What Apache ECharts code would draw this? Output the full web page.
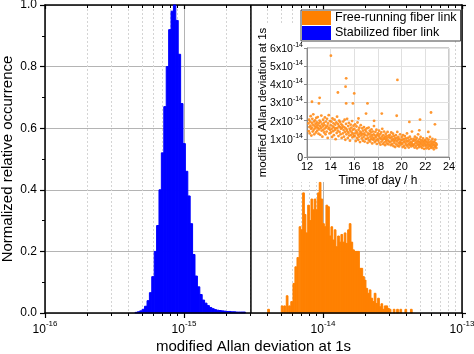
<!DOCTYPE html>
<html>
<head>
<meta charset="utf-8">
<script src="https://cdn.jsdelivr.net/npm/echarts@6/dist/echarts.min.js"></script>
<style>
html, body { margin: 0; padding: 0; background: #fff; }
#chart { width: 474px; height: 354px; }
</style>
</head>
<body>
<div id="chart"></div>
<script>
// stabilized link histogram: bin centres (modified Allan deviation at 1 s) and normalized occurrence
var stabCentres = [
  4.53e-16, 4.71e-16, 4.90e-16, 5.10e-16, 5.31e-16, 5.53e-16, 5.75e-16, 5.98e-16, 6.23e-16, 6.48e-16,
  6.74e-16, 7.01e-16, 7.30e-16, 7.60e-16, 7.91e-16, 8.23e-16, 8.56e-16, 8.91e-16, 9.27e-16, 9.64e-16,
  1.003e-15, 1.044e-15, 1.086e-15, 1.130e-15, 1.176e-15, 1.224e-15, 1.274e-15, 1.325e-15, 1.379e-15, 1.435e-15,
  1.493e-15, 1.554e-15, 1.617e-15, 1.682e-15, 1.751e-15, 1.821e-15, 1.895e-15, 1.972e-15, 2.052e-15, 2.135e-15,
  2.223e-15, 2.312e-15, 2.406e-15, 2.504e-15, 2.605e-15, 2.711e-15
];
var stabCounts = [
  0.002, 0.004, 0.007, 0.012, 0.022, 0.04, 0.066, 0.118, 0.20, 0.284,
  0.40, 0.52, 0.67, 0.80, 0.92, 0.98, 1.0, 0.95, 0.84, 0.68,
  0.55, 0.46, 0.38, 0.29, 0.19, 0.12, 0.085, 0.06, 0.042, 0.032,
  0.024, 0.018, 0.014, 0.011, 0.009, 0.008, 0.007, 0.006, 0.005, 0.005,
  0.004, 0.004, 0.003, 0.003, 0.003, 0.003
];

// free-running link histogram
var freeCentres = [
  4.06e-15, 5.08e-15, 5.29e-15, 5.52e-15, 5.74e-15, 5.95e-15, 6.17e-15, 6.37e-15, 6.59e-15, 6.83e-15,
  7.04e-15, 7.24e-15, 7.43e-15, 7.65e-15, 7.87e-15, 8.08e-15, 8.31e-15, 8.55e-15, 8.77e-15, 9.03e-15,
  9.28e-15, 9.53e-15, 9.80e-15, 1.008e-14, 1.035e-14, 1.065e-14, 1.095e-14, 1.125e-14, 1.157e-14, 1.190e-14,
  1.222e-14, 1.257e-14, 1.293e-14, 1.327e-14, 1.365e-14, 1.404e-14, 1.442e-14, 1.483e-14, 1.526e-14, 1.567e-14,
  1.612e-14, 1.657e-14, 1.702e-14, 1.751e-14, 1.801e-14, 1.849e-14, 1.902e-14, 1.956e-14, 2.009e-14, 2.066e-14,
  2.125e-14, 2.182e-14, 2.244e-14, 2.308e-14, 2.370e-14, 2.438e-14, 2.508e-14, 2.575e-14, 2.649e-14, 2.725e-14,
  2.798e-14, 2.877e-14, 2.959e-14, 3.039e-14, 3.247e-14, 3.436e-14, 3.628e-14, 3.942e-14, 4.318e-14
];
var freeCounts = [
  0.012, 0.023, 0.023, 0.056, 0.023, 0.037, 0.096, 0.15, 0.18, 0.28,
  0.27, 0.39, 0.32, 0.26, 0.35, 0.30, 0.37, 0.335, 0.37, 0.335,
  0.39, 0.424, 0.37, 0.29, 0.28, 0.35, 0.345, 0.25, 0.28, 0.237,
  0.27, 0.215, 0.25, 0.23, 0.255, 0.23, 0.26, 0.226, 0.27, 0.29,
  0.23, 0.205, 0.2, 0.2, 0.2, 0.145, 0.145, 0.118, 0.107, 0.08,
  0.064, 0.075, 0.048, 0.037, 0.064, 0.031, 0.048, 0.02, 0.03, 0.012,
  0.023, 0.023, 0.015, 0.012, 0.012, 0.012, 0.012, 0.012, 0.012
];

// boundary between the two histograms
var dividerAt = 3.03e-15;

// inset: time of day (h) vs modified Allan deviation at 1 s (units of 1e-14)
var insetPoints = [
  [12.12,1.85],[12.15,1.42],[12.18,2.05],[12.2,1.65],[12.23,1.3],[12.26,1.95],[12.29,1.72],[12.31,2.25],[12.34,1.55],[12.37,1.18],[12.4,1.88],[12.42,1.62],[12.45,2.1],[12.48,1.4],[12.5,1.78],[12.53,2.35],[12.56,1.5],[12.59,1.95],[12.61,1.25],[12.64,1.7],[12.67,2.02],[12.7,1.58],[12.72,1.82],[12.75,1.35],[12.78,2.15],[12.8,1.66],[12.83,1.9],[12.86,1.45],[12.89,1.75],[12.91,2.2],[12.94,1.6],[12.97,1.28],
  [13.0,1.85],[13.03,1.52],[13.06,2.0],[13.09,1.7],[13.12,1.22],[13.15,1.92],[13.18,1.6],[13.21,2.28],[13.24,1.45],[13.27,1.8],[13.3,1.12],[13.33,1.68],[13.36,2.05],[13.39,1.5],[13.42,1.88],[13.45,1.35],[13.48,1.75],[13.51,2.18],[13.54,1.58],[13.57,1.25],[13.6,1.95],[13.63,1.65],[13.66,1.4],[13.69,2.1],[13.72,1.72],[13.75,1.05],[13.78,1.85],[13.81,1.55],[13.84,2.3],[13.87,1.62],[13.9,1.3],[13.93,1.98],[13.96,1.48],
  [14.0,1.75],[14.03,1.35],[14.06,1.95],[14.09,1.55],[14.12,1.1],[14.15,2.12],[14.18,1.68],[14.21,1.42],[14.24,1.85],[14.27,1.2],[14.3,1.62],[14.33,2.05],[14.36,1.5],[14.39,1.78],[14.42,0.98],[14.45,1.58],[14.48,1.9],[14.51,1.32],[14.54,2.22],[14.57,1.6],[14.6,1.45],[14.63,1.82],[14.66,1.15],[14.69,1.7],[14.72,2.0],[14.75,1.38],[14.78,1.65],[14.81,1.92],[14.84,1.25],[14.87,1.55],[14.9,1.8],[14.93,1.05],[14.96,1.6],
  [15.0,1.72],[15.03,1.3],[15.06,1.95],[15.09,1.48],[15.12,1.12],[15.15,1.65],[15.18,2.05],[15.21,1.38],[15.24,0.95],[15.27,1.58],[15.3,1.82],[15.33,1.25],[15.36,1.5],[15.39,2.1],[15.42,1.4],[15.45,1.05],[15.48,1.7],[15.51,1.32],[15.54,1.88],[15.57,1.18],[15.6,1.55],[15.63,0.9],[15.66,1.45],[15.69,1.78],[15.72,1.2],[15.75,1.62],[15.78,1.35],[15.81,1.98],[15.84,1.08],[15.87,1.5],[15.9,1.28],[15.93,1.72],[15.96,1.15],
  [16.0,1.55],[16.03,1.15],[16.06,1.8],[16.09,1.3],[16.12,0.88],[16.15,1.45],[16.18,1.68],[16.21,1.05],[16.24,1.35],[16.27,1.9],[16.3,1.22],[16.33,0.95],[16.36,1.5],[16.39,1.12],[16.42,1.62],[16.45,1.28],[16.48,0.82],[16.51,1.4],[16.54,1.75],[16.57,1.18],[16.6,1.32],[16.63,1.02],[16.66,1.58],[16.69,1.25],[16.72,0.9],[16.75,1.45],[16.78,1.1],[16.81,1.65],[16.84,1.3],[16.87,0.85],[16.9,1.2],[16.93,1.5],[16.96,1.0],
  [17.0,1.4],[17.03,1.0],[17.06,1.58],[17.09,1.18],[17.12,0.78],[17.15,1.3],[17.18,1.05],[17.21,1.62],[17.24,0.92],[17.27,1.25],[17.3,1.45],[17.33,0.85],[17.36,1.12],[17.39,1.35],[17.42,0.98],[17.45,1.52],[17.48,1.2],[17.51,0.75],[17.54,1.08],[17.57,1.4],[17.6,0.95],[17.63,1.25],[17.66,1.7],[17.69,1.02],[17.72,0.82],[17.75,1.18],[17.78,1.38],[17.81,0.9],[17.84,1.1],[17.87,1.5],[17.9,0.72],[17.93,1.22],[17.96,0.98],
  [18.0,1.3],[18.03,0.9],[18.06,1.15],[18.09,1.45],[18.12,0.78],[18.15,1.05],[18.18,1.25],[18.21,0.68],[18.24,1.0],[18.27,1.35],[18.3,0.85],[18.33,1.12],[18.36,1.55],[18.39,0.95],[18.42,0.72],[18.45,1.2],[18.48,1.02],[18.51,1.4],[18.54,0.8],[18.57,1.1],[18.6,0.65],[18.63,0.98],[18.66,1.28],[18.69,0.88],[18.72,1.15],[18.75,0.75],[18.78,1.05],[18.81,1.38],[18.84,0.92],[18.87,0.7],[18.9,1.18],[18.93,0.85],[18.96,1.08],
  [19.0,1.22],[19.03,0.8],[19.06,1.05],[19.09,0.65],[19.12,1.35],[19.15,0.9],[19.18,1.12],[19.21,0.72],[19.24,0.98],[19.27,1.28],[19.3,0.6],[19.33,0.88],[19.36,1.15],[19.39,0.78],[19.42,1.02],[19.45,0.55],[19.48,0.92],[19.51,1.2],[19.54,0.7],[19.57,1.05],[19.6,0.85],[19.63,1.38],[19.66,0.62],[19.69,0.95],[19.72,1.1],[19.75,0.75],[19.78,0.58],[19.81,1.0],[19.84,0.82],[19.87,1.25],[19.9,0.68],[19.93,0.92],[19.96,0.78],
  [20.0,1.1],[20.03,0.72],[20.06,0.95],[20.09,0.55],[20.12,1.2],[20.15,0.8],[20.18,1.0],[20.21,0.62],[20.24,0.88],[20.27,1.15],[20.3,0.5],[20.33,0.78],[20.36,1.02],[20.39,0.68],[20.42,0.9],[20.45,1.3],[20.48,0.6],[20.51,0.85],[20.54,1.05],[20.57,0.7],[20.6,0.52],[20.63,0.92],[20.66,0.75],[20.69,1.12],[20.72,0.65],[20.75,0.82],[20.78,1.0],[20.81,0.58],[20.84,0.78],[20.87,1.4],[20.9,0.7],[20.93,0.88],[20.96,0.62],
  [21.0,1.0],[21.03,0.68],[21.06,0.9],[21.09,0.52],[21.12,1.12],[21.15,0.75],[21.18,0.95],[21.21,0.6],[21.24,0.82],[21.27,1.05],[21.3,0.48],[21.33,0.72],[21.36,0.88],[21.39,1.25],[21.42,0.65],[21.45,0.8],[21.48,0.55],[21.51,0.98],[21.54,0.7],[21.57,0.85],[21.6,1.1],[21.63,0.58],[21.66,0.76],[21.69,0.92],[21.72,0.5],[21.75,0.68],[21.78,0.85],[21.81,1.02],[21.84,0.62],[21.87,0.78],[21.9,0.45],[21.93,0.9],[21.96,0.7],
  [22.0,0.92],[22.03,0.6],[22.06,0.8],[22.09,0.48],[22.12,1.02],[22.15,0.68],[22.18,0.85],[22.21,0.55],[22.24,0.75],[22.27,0.95],[22.3,0.45],[22.33,0.65],[22.36,0.82],[22.39,1.1],[22.42,0.58],[22.45,0.72],[22.48,0.5],[22.51,0.88],[22.54,0.62],[22.57,0.78],[22.6,1.0],[22.63,0.52],[22.66,0.7],[22.69,0.85],[22.72,0.42],[22.75,0.65],[22.78,0.8],[22.81,0.55],[22.84,0.95],[22.87,0.6],[22.9,0.75],[22.93,0.5],[22.96,0.68],
  // outliers
  [14.02,5.58],[15.31,4.33],[15.26,3.87],[14.61,3.55],[15.99,3.5],[13.07,3.26],[12.42,3.04],[13.01,2.95],[17.11,2.95],[19.64,4.24],[15.31,2.95],[15.88,2.95],[16.35,2.12],[16.99,2.39],[18.32,2.39],[17.67,1.99],[19.58,2.27],[20.65,1.93],[21.55,2.06],[21.49,1.47],[22.48,2.45],[22.81,1.8],[22.25,1.38]
];

var decadeTicks = [1e-16, 1e-15, 1e-14, 1e-13];
var minorTicks = [];
decadeTicks.slice(0, 3).forEach(function (d) {
  for (var m = 2; m <= 9; m++) minorTicks.push(m * d);
});

var FONT = 'Liberation Sans, Arial, sans-serif';
var ORANGE = '#ff8000';
var BLUE = '#0000ff';
var stabHalfRatio = 1.0201;   // half bin width, log scale
var freeHalfRatio = 1.0142;

function histItem(ratio) {
  return function (params, api) {
    var v = api.value(0), h = api.value(1);
    var p0 = api.coord([v / ratio, h]);
    var p1 = api.coord([v * ratio, 0]);
    var st = api.style();
    st.stroke = st.fill;
    st.lineWidth = 1;
    return {
      type: 'rect',
      shape: { x: p0[0], y: p0[1], width: p1[0] - p0[0], height: p1[1] - p0[1] },
      style: st
    };
  };
}

function pairs(xs, ys) {
  return xs.map(function (x, i) { return [x, ys[i]]; });
}

var supRich = {
  b: { fontSize: 12, fontFamily: FONT, color: '#000', lineHeight: 16, verticalAlign: 'bottom' },
  s: { fontSize: 8, fontFamily: FONT, color: '#000', lineHeight: 16, verticalAlign: 'top' }
};
var insetRich = {
  b: { fontSize: 10.5, fontFamily: FONT, color: '#000', lineHeight: 13, verticalAlign: 'bottom' },
  s: { fontSize: 7, fontFamily: FONT, color: '#000', lineHeight: 13, verticalAlign: 'top' }
};

var chart = echarts.init(document.getElementById('chart'));

var mainX = { type: 'log', logBase: 10, min: 1e-16, max: 1e-13, gridIndex: 0 };

chart.setOption({
  animation: false,
  backgroundColor: '#fff',
  textStyle: { fontFamily: FONT },
  grid: [
    { left: 45, top: 5, right: 12, bottom: 41, outerBoundsMode: 'none', containLabel: false },
    { left: 307, top: 48, width: 142, height: 109, show: true, borderColor: '#999', borderWidth: 1, z: 3,
      outerBoundsMode: 'none', containLabel: false }
  ],
  legend: {
    data: ['Free-running fiber link', 'Stabilized fiber link'],
    orient: 'vertical', left: 301, top: 10,
    itemWidth: 29, itemHeight: 14, itemGap: 1,
    padding: [1, 4, 1, 1],
    borderColor: '#444', borderWidth: 1, backgroundColor: '#fff',
    icon: 'rect', selectedMode: false, z: 6,
    textStyle: { fontSize: 12.5, fontFamily: FONT, color: '#000', padding: [0, 0, 0, -1] }
  },
  graphic: [
    { type: 'rect', z: 1, silent: true, shape: { x: 253, y: 24, width: 197, height: 158 }, style: { fill: '#fff' } }
  ],
  xAxis: [
    Object.assign({}, mainX, {
      position: 'bottom', z: 5,
      name: 'modified Allan deviation at 1s', nameLocation: 'middle', nameGap: 26,
      nameMoveOverlap: false,
      nameTextStyle: { fontSize: 15, fontFamily: FONT, color: '#000' },
      axisLine: { lineStyle: { color: '#000', width: 1.5 } },
      axisTick: { length: 5, lineStyle: { color: '#000', width: 1.2 } },
      axisLabel: {
        margin: 7,
        formatter: function (v) { return '{b|10}{s|' + Math.round(Math.log10(v)) + '}'; },
        rich: supRich
      },
      splitLine: { show: false }
    }),
    Object.assign({}, mainX, {
      position: 'bottom', z: 0,
      axisLine: { show: false },
      axisTick: { length: 3, customValues: minorTicks, lineStyle: { color: '#000', width: 1 } },
      axisLabel: { show: false },
      splitLine: { show: true, lineStyle: { color: '#d4d4d4', width: 1, type: [2, 2] } }
    }),
    Object.assign({}, mainX, {
      position: 'top', z: 0,
      axisLine: { lineStyle: { color: '#000', width: 1.5 } },
      axisTick: { inside: true, length: 4, lineStyle: { color: '#000', width: 1.2 } },
      axisLabel: { show: false },
      splitLine: { show: true, lineStyle: { color: '#b4b4b4', width: 1 } }
    }),
    Object.assign({}, mainX, {
      position: 'top', z: 0,
      axisLine: { show: false },
      axisTick: { inside: true, length: 3, customValues: minorTicks, lineStyle: { color: '#000', width: 1 } },
      axisLabel: { show: false },
      splitLine: { show: false }
    }),
    {
      type: 'value', gridIndex: 1, min: 12, max: 24, interval: 2, z: 3,
      name: 'Time of day / h', nameLocation: 'middle', nameGap: 18,
      nameTextStyle: { fontSize: 12, fontFamily: FONT, color: '#000' },
      axisLine: { lineStyle: { color: '#888', width: 1 } },
      axisTick: { length: 3, lineStyle: { color: '#888' } },
      axisLabel: { fontSize: 11, fontFamily: FONT, color: '#000', margin: 4 },
      splitLine: { show: true, lineStyle: { color: '#e0e0e0', width: 1 } }
    }
  ],
  yAxis: [
    {
      type: 'value', gridIndex: 0, min: 0, max: 1, interval: 0.2, position: 'left', z: 0,
      name: 'Normalized relative occurrence', nameLocation: 'middle', nameGap: 30,
      nameMoveOverlap: false,
      nameTextStyle: { fontSize: 15, fontFamily: FONT, color: '#000' },
      axisLine: { show: true, lineStyle: { color: '#000', width: 1.5 } },
      axisTick: { show: true, length: 5, lineStyle: { color: '#000', width: 1.2 } },
      minorTick: { show: true, splitNumber: 2, length: 3, lineStyle: { color: '#000', width: 1 } },
      axisLabel: { fontSize: 12, fontFamily: FONT, color: '#000', margin: 8,
        formatter: function (v) { return v.toFixed(1); } },
      splitLine: { show: true, lineStyle: { color: '#b4b4b4', width: 1 } }
    },
    {
      type: 'value', gridIndex: 0, min: 0, max: 1, interval: 0.2, position: 'right', z: 0,
      axisLine: { show: true, lineStyle: { color: '#000', width: 1.5 } },
      axisTick: { show: true, length: 4, lineStyle: { color: '#000', width: 1.2 } },
      axisLabel: { show: false },
      splitLine: { show: false }
    },
    {
      type: 'value', gridIndex: 1, min: 0, max: 6, interval: 1, z: 3,
      name: 'modified Allan deviation at 1s', nameLocation: 'middle', nameGap: 38,
      nameMoveOverlap: false,
      nameTextStyle: { fontSize: 11.5, fontFamily: FONT, color: '#000' },
      axisLine: { show: true, lineStyle: { color: '#888', width: 1 } },
      axisTick: { show: true, length: 3, lineStyle: { color: '#888' } },
      axisLabel: {
        margin: 4,
        formatter: function (v) {
          var n = Math.round(v);
          return n === 0 ? '{b|0}' : '{b|' + n + 'x10}{s|-14}';
        },
        rich: insetRich
      },
      splitLine: { show: true, lineStyle: { color: '#e0e0e0', width: 1 } }
    }
  ],
  series: [
    {
      name: 'Free-running fiber link', type: 'custom', xAxisIndex: 0, yAxisIndex: 0, z: 2,
      itemStyle: { color: ORANGE },
      renderItem: histItem(freeHalfRatio),
      encode: { x: 0, y: 1 },
      data: pairs(freeCentres, freeCounts)
    },
    {
      name: 'Stabilized fiber link', type: 'custom', xAxisIndex: 0, yAxisIndex: 0, z: 2,
      itemStyle: { color: BLUE },
      renderItem: histItem(stabHalfRatio),
      encode: { x: 0, y: 1 },
      data: pairs(stabCentres, stabCounts)
    },
    {
      name: 'divider', type: 'custom', xAxisIndex: 0, yAxisIndex: 0, z: 2, silent: true,
      renderItem: function (params, api) {
        var top = api.coord([api.value(0), 1]);
        var bottom = api.coord([api.value(0), 0]);
        return {
          type: 'line',
          shape: { x1: top[0], y1: top[1], x2: bottom[0], y2: bottom[1] },
          style: { stroke: '#000', lineWidth: 1.5 }
        };
      },
      encode: { x: 0 },
      data: [[dividerAt]]
    },
    {
      name: 'inset', type: 'scatter', xAxisIndex: 4, yAxisIndex: 2, z: 4,
      symbol: 'circle', symbolSize: 2.8,
      itemStyle: { color: '#ff8c1a', opacity: 0.9 },
      data: insetPoints
    }
  ]
});
</script>
</body>
</html>
